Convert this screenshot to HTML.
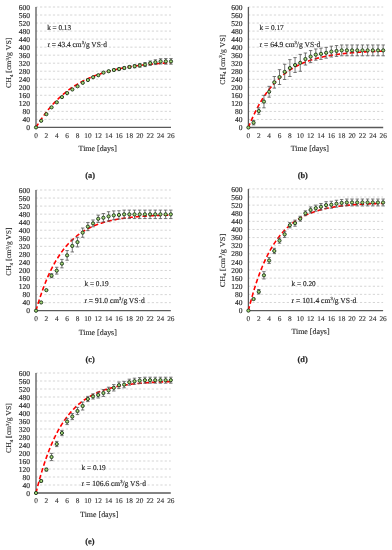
<!DOCTYPE html>
<html><head><meta charset="utf-8"><title>Figure</title>
<style>
html,body{margin:0;padding:0;background:#fff;}
body{width:392px;height:550px;overflow:hidden;}
svg{display:block;}
#w{width:392px;height:550px;}
text{font-family:"Liberation Serif", serif;fill:#262626;text-rendering:geometricPrecision;stroke:#262626;stroke-width:0.18px;}
.yt{font-size:7.5px;text-anchor:end;fill:#262626;stroke:#262626;stroke-width:0.15px;}
.xt{font-size:7.3px;text-anchor:middle;fill:#303030;stroke:#303030;stroke-width:0.12px;}
.an{font-size:7.4px;stroke-width:0.16px;}
.an2{font-size:7.7px;stroke-width:0.16px;}
.yl{font-size:7.4px;text-anchor:middle;stroke-width:0.12px;fill:#2a2a2a;stroke:#2a2a2a;}
.xl{font-size:7.8px;stroke-width:0.12px;fill:#2a2a2a;stroke:#2a2a2a;}
.pl{font-size:8.4px;font-weight:bold;text-anchor:middle;}
.sup,.sub{font-size:4.6px;}
.gr{stroke:#d0d0d0;stroke-width:0.9;stroke-dasharray:2.2 2.1;}
.ax{stroke:#595959;stroke-width:1.3;}
.md{fill:none;stroke:#ff0000;stroke-width:1.6;stroke-dasharray:4.5 2.6;}
.eb{fill:none;stroke:#555;stroke-width:0.8;}
.mk{fill:#a3d977;stroke:#263d22;stroke-width:1;}
</style></head>
<body><div id="w"><svg width="392" height="550" viewBox="0 0 392 550">
<rect width="392" height="550" fill="#fff"/>
<g><line x1="35.70" y1="119.37" x2="171.00" y2="119.37" class="gr"/>
<line x1="35.70" y1="111.35" x2="171.00" y2="111.35" class="gr"/>
<line x1="35.70" y1="103.32" x2="171.00" y2="103.32" class="gr"/>
<line x1="35.70" y1="95.29" x2="171.00" y2="95.29" class="gr"/>
<line x1="35.70" y1="87.27" x2="171.00" y2="87.27" class="gr"/>
<line x1="35.70" y1="79.24" x2="171.00" y2="79.24" class="gr"/>
<line x1="35.70" y1="71.21" x2="171.00" y2="71.21" class="gr"/>
<line x1="35.70" y1="63.19" x2="171.00" y2="63.19" class="gr"/>
<line x1="35.70" y1="55.16" x2="171.00" y2="55.16" class="gr"/>
<line x1="35.70" y1="47.13" x2="171.00" y2="47.13" class="gr"/>
<line x1="35.70" y1="39.11" x2="171.00" y2="39.11" class="gr"/>
<line x1="35.70" y1="31.08" x2="171.00" y2="31.08" class="gr"/>
<line x1="35.70" y1="23.05" x2="171.00" y2="23.05" class="gr"/>
<line x1="35.70" y1="15.03" x2="171.00" y2="15.03" class="gr"/>
<line x1="35.70" y1="7.00" x2="171.00" y2="7.00" class="gr"/>
<text x="30.00" y="130.00" class="yt">0</text>
<text x="30.00" y="121.97" class="yt">40</text>
<text x="30.00" y="113.95" class="yt">80</text>
<text x="30.00" y="105.92" class="yt">120</text>
<text x="30.00" y="97.89" class="yt">160</text>
<text x="30.00" y="89.87" class="yt">200</text>
<text x="30.00" y="81.84" class="yt">240</text>
<text x="30.00" y="73.81" class="yt">280</text>
<text x="30.00" y="65.79" class="yt">320</text>
<text x="30.00" y="57.76" class="yt">360</text>
<text x="30.00" y="49.73" class="yt">400</text>
<text x="30.00" y="41.71" class="yt">440</text>
<text x="30.00" y="33.68" class="yt">480</text>
<text x="30.00" y="25.65" class="yt">520</text>
<text x="30.00" y="17.63" class="yt">560</text>
<text x="30.00" y="9.60" class="yt">600</text>
<text x="36.00" y="137.80" class="xt">0</text>
<text x="46.38" y="137.80" class="xt">2</text>
<text x="56.77" y="137.80" class="xt">4</text>
<text x="67.15" y="137.80" class="xt">6</text>
<text x="77.54" y="137.80" class="xt">8</text>
<text x="87.92" y="137.80" class="xt">10</text>
<text x="98.31" y="137.80" class="xt">12</text>
<text x="108.69" y="137.80" class="xt">14</text>
<text x="119.08" y="137.80" class="xt">16</text>
<text x="129.46" y="137.80" class="xt">18</text>
<text x="139.85" y="137.80" class="xt">20</text>
<text x="150.23" y="137.80" class="xt">22</text>
<text x="160.62" y="137.80" class="xt">24</text>
<text x="171.00" y="137.80" class="xt">26</text>
<line x1="36.00" y1="7.00" x2="36.00" y2="127.40" class="ax"/>
<line x1="36.00" y1="127.40" x2="171.00" y2="127.40" class="ax"/>
<polyline points="36.00,127.40 36.67,126.28 37.35,125.17 38.02,124.09 38.70,123.02 39.38,121.97 40.05,120.94 40.73,119.93 41.40,118.93 42.08,117.95 42.75,116.98 43.42,116.04 44.10,115.10 44.77,114.19 45.45,113.29 46.12,112.40 46.80,111.53 47.48,110.67 48.15,109.83 48.83,109.00 49.50,108.19 50.17,107.39 50.85,106.60 51.53,105.83 52.20,105.07 52.88,104.32 53.55,103.58 54.22,102.86 54.90,102.15 55.58,101.45 56.25,100.76 56.92,100.08 57.60,99.42 58.28,98.77 58.95,98.12 59.62,97.49 60.30,96.87 60.97,96.26 61.65,95.66 62.33,95.07 63.00,94.49 63.67,93.92 64.35,93.36 65.03,92.80 65.70,92.26 66.38,91.73 67.05,91.20 67.72,90.69 68.40,90.18 69.08,89.68 69.75,89.19 70.43,88.71 71.10,88.23 71.78,87.77 72.45,87.31 73.12,86.86 73.80,86.42 74.47,85.98 75.15,85.55 75.83,85.13 76.50,84.72 77.17,84.31 77.85,83.91 78.53,83.52 79.20,83.13 79.88,82.75 80.55,82.37 81.23,82.01 81.90,81.64 82.58,81.29 83.25,80.94 83.93,80.59 84.60,80.26 85.28,79.92 85.95,79.60 86.62,79.28 87.30,78.96 87.97,78.65 88.65,78.34 89.33,78.04 90.00,77.75 90.67,77.46 91.35,77.17 92.03,76.89 92.70,76.61 93.38,76.34 94.05,76.08 94.72,75.81 95.40,75.56 96.08,75.30 96.75,75.05 97.43,74.81 98.10,74.57 98.78,74.33 99.45,74.10 100.12,73.87 100.80,73.64 101.47,73.42 102.15,73.20 102.83,72.99 103.50,72.78 104.18,72.57 104.85,72.37 105.53,72.17 106.20,71.97 106.88,71.78 107.55,71.59 108.23,71.40 108.90,71.21 109.58,71.03 110.25,70.86 110.92,70.68 111.60,70.51 112.28,70.34 112.95,70.17 113.62,70.01 114.30,69.85 114.98,69.69 115.65,69.54 116.33,69.38 117.00,69.23 117.68,69.08 118.35,68.94 119.03,68.80 119.70,68.66 120.38,68.52 121.05,68.38 121.73,68.25 122.40,68.12 123.08,67.99 123.75,67.86 124.43,67.74 125.10,67.61 125.78,67.49 126.45,67.38 127.13,67.26 127.80,67.14 128.47,67.03 129.15,66.92 129.82,66.81 130.50,66.70 131.18,66.60 131.85,66.50 132.53,66.39 133.20,66.29 133.88,66.19 134.55,66.10 135.22,66.00 135.90,65.91 136.57,65.82 137.25,65.73 137.93,65.64 138.60,65.55 139.28,65.46 139.95,65.38 140.62,65.30 141.30,65.21 141.98,65.13 142.65,65.06 143.33,64.98 144.00,64.90 144.68,64.83 145.35,64.75 146.03,64.68 146.70,64.61 147.38,64.54 148.05,64.47 148.73,64.40 149.40,64.33 150.07,64.27 150.75,64.20 151.43,64.14 152.10,64.08 152.77,64.02 153.45,63.96 154.12,63.90 154.80,63.84 155.48,63.78 156.15,63.73 156.82,63.67 157.50,63.62 158.18,63.56 158.85,63.51 159.53,63.46 160.20,63.41 160.88,63.36 161.55,63.31 162.22,63.26 162.90,63.21 163.57,63.16 164.25,63.12 164.92,63.07 165.60,63.03 166.28,62.98 166.95,62.94 167.62,62.90 168.30,62.86 168.97,62.82 169.65,62.78 170.33,62.74 171.00,62.70" class="md"/>
<path d="M98.31 74.83V75.63M96.61 74.83H100.01M96.61 75.63H100.01" class="eb"/>
<path d="M103.50 72.02V73.22M101.80 72.02H105.20M101.80 73.22H105.20" class="eb"/>
<path d="M108.69 70.41V72.02M106.99 70.41H110.39M106.99 72.02H110.39" class="eb"/>
<path d="M113.88 69.21V70.81M112.18 69.21H115.58M112.18 70.81H115.58" class="eb"/>
<path d="M119.08 68.00V70.01M117.38 68.00H120.78M117.38 70.01H120.78" class="eb"/>
<path d="M124.27 66.80V69.21M122.57 66.80H125.97M122.57 69.21H125.97" class="eb"/>
<path d="M129.46 65.59V68.40M127.76 65.59H131.16M127.76 68.40H131.16" class="eb"/>
<path d="M134.65 64.59V67.80M132.95 64.59H136.35M132.95 67.80H136.35" class="eb"/>
<path d="M139.85 63.59V67.20M138.15 63.59H141.55M138.15 67.20H141.55" class="eb"/>
<path d="M145.04 62.58V66.60M143.34 62.58H146.74M143.34 66.60H146.74" class="eb"/>
<path d="M150.23 60.98V65.39M148.53 60.98H151.93M148.53 65.39H151.93" class="eb"/>
<path d="M155.42 59.78V64.59M153.72 59.78H157.12M153.72 64.59H157.12" class="eb"/>
<path d="M160.62 58.77V63.99M158.92 58.77H162.32M158.92 63.99H162.32" class="eb"/>
<path d="M165.81 58.57V64.19M164.11 58.57H167.51M164.11 64.19H167.51" class="eb"/>
<path d="M171.00 58.57V64.19M169.30 58.57H172.70M169.30 64.19H172.70" class="eb"/>
<circle cx="36.00" cy="127.40" r="1.6" class="mk"/>
<circle cx="41.19" cy="120.78" r="1.6" class="mk"/>
<circle cx="46.38" cy="114.16" r="1.6" class="mk"/>
<circle cx="51.58" cy="107.33" r="1.6" class="mk"/>
<circle cx="56.77" cy="102.32" r="1.6" class="mk"/>
<circle cx="61.96" cy="97.10" r="1.6" class="mk"/>
<circle cx="67.15" cy="93.09" r="1.6" class="mk"/>
<circle cx="72.35" cy="89.47" r="1.6" class="mk"/>
<circle cx="77.54" cy="86.26" r="1.6" class="mk"/>
<circle cx="82.73" cy="82.85" r="1.6" class="mk"/>
<circle cx="87.92" cy="80.04" r="1.6" class="mk"/>
<circle cx="93.12" cy="77.23" r="1.6" class="mk"/>
<circle cx="98.31" cy="75.23" r="1.6" class="mk"/>
<circle cx="103.50" cy="72.62" r="1.6" class="mk"/>
<circle cx="108.69" cy="71.21" r="1.6" class="mk"/>
<circle cx="113.88" cy="70.01" r="1.6" class="mk"/>
<circle cx="119.08" cy="69.01" r="1.6" class="mk"/>
<circle cx="124.27" cy="68.00" r="1.6" class="mk"/>
<circle cx="129.46" cy="67.00" r="1.6" class="mk"/>
<circle cx="134.65" cy="66.20" r="1.6" class="mk"/>
<circle cx="139.85" cy="65.39" r="1.6" class="mk"/>
<circle cx="145.04" cy="64.59" r="1.6" class="mk"/>
<circle cx="150.23" cy="63.19" r="1.6" class="mk"/>
<circle cx="155.42" cy="62.18" r="1.6" class="mk"/>
<circle cx="160.62" cy="61.38" r="1.6" class="mk"/>
<circle cx="165.81" cy="61.38" r="1.6" class="mk"/>
<circle cx="171.00" cy="61.38" r="1.6" class="mk"/>
<text x="47.20" y="29.70" class="an" textLength="23.90" lengthAdjust="spacingAndGlyphs">k = 0.13</text>
<text x="47.40" y="46.70" class="an2" textLength="59.60" lengthAdjust="spacingAndGlyphs">r = 43.4 cm<tspan class="sup" dy="-2.6">3</tspan><tspan dy="2.6">/g VS·d</tspan></text>
<text transform="translate(11.20,62.80) rotate(-90)" class="yl" textLength="50.40" lengthAdjust="spacingAndGlyphs">CH<tspan class="sub" dy="1.6">4</tspan><tspan dy="-1.6"> [cm</tspan><tspan class="sup" dy="-2.6">3</tspan><tspan dy="2.6">/g VS]</tspan></text>
<text x="78.60" y="150.80" class="xl" textLength="38.2" lengthAdjust="spacingAndGlyphs">Time [days]</text>
<text x="90.20" y="177.90" class="pl">(a)</text></g>
<g><line x1="248.10" y1="119.47" x2="383.20" y2="119.47" class="gr"/>
<line x1="248.10" y1="111.43" x2="383.20" y2="111.43" class="gr"/>
<line x1="248.10" y1="103.40" x2="383.20" y2="103.40" class="gr"/>
<line x1="248.10" y1="95.37" x2="383.20" y2="95.37" class="gr"/>
<line x1="248.10" y1="87.33" x2="383.20" y2="87.33" class="gr"/>
<line x1="248.10" y1="79.30" x2="383.20" y2="79.30" class="gr"/>
<line x1="248.10" y1="71.27" x2="383.20" y2="71.27" class="gr"/>
<line x1="248.10" y1="63.23" x2="383.20" y2="63.23" class="gr"/>
<line x1="248.10" y1="55.20" x2="383.20" y2="55.20" class="gr"/>
<line x1="248.10" y1="47.17" x2="383.20" y2="47.17" class="gr"/>
<line x1="248.10" y1="39.13" x2="383.20" y2="39.13" class="gr"/>
<line x1="248.10" y1="31.10" x2="383.20" y2="31.10" class="gr"/>
<line x1="248.10" y1="23.07" x2="383.20" y2="23.07" class="gr"/>
<line x1="248.10" y1="15.03" x2="383.20" y2="15.03" class="gr"/>
<line x1="248.10" y1="7.00" x2="383.20" y2="7.00" class="gr"/>
<text x="242.40" y="130.10" class="yt">0</text>
<text x="242.40" y="122.07" class="yt">40</text>
<text x="242.40" y="114.03" class="yt">80</text>
<text x="242.40" y="106.00" class="yt">120</text>
<text x="242.40" y="97.97" class="yt">160</text>
<text x="242.40" y="89.93" class="yt">200</text>
<text x="242.40" y="81.90" class="yt">240</text>
<text x="242.40" y="73.87" class="yt">280</text>
<text x="242.40" y="65.83" class="yt">320</text>
<text x="242.40" y="57.80" class="yt">360</text>
<text x="242.40" y="49.77" class="yt">400</text>
<text x="242.40" y="41.73" class="yt">440</text>
<text x="242.40" y="33.70" class="yt">480</text>
<text x="242.40" y="25.67" class="yt">520</text>
<text x="242.40" y="17.63" class="yt">560</text>
<text x="242.40" y="9.60" class="yt">600</text>
<text x="248.40" y="137.90" class="xt">0</text>
<text x="258.77" y="137.90" class="xt">2</text>
<text x="269.14" y="137.90" class="xt">4</text>
<text x="279.51" y="137.90" class="xt">6</text>
<text x="289.88" y="137.90" class="xt">8</text>
<text x="300.25" y="137.90" class="xt">10</text>
<text x="310.62" y="137.90" class="xt">12</text>
<text x="320.98" y="137.90" class="xt">14</text>
<text x="331.35" y="137.90" class="xt">16</text>
<text x="341.72" y="137.90" class="xt">18</text>
<text x="352.09" y="137.90" class="xt">20</text>
<text x="362.46" y="137.90" class="xt">22</text>
<text x="372.83" y="137.90" class="xt">24</text>
<text x="383.20" y="137.90" class="xt">26</text>
<line x1="248.40" y1="7.00" x2="248.40" y2="127.50" class="ax"/>
<line x1="248.40" y1="127.50" x2="383.20" y2="127.50" class="ax"/>
<polyline points="248.40,127.50 249.07,125.81 249.75,124.16 250.42,122.54 251.10,120.96 251.77,119.41 252.44,117.90 253.12,116.42 253.79,114.97 254.47,113.55 255.14,112.17 255.81,110.81 256.49,109.49 257.16,108.19 257.84,106.92 258.51,105.68 259.18,104.47 259.86,103.28 260.53,102.12 261.21,100.99 261.88,99.88 262.55,98.79 263.23,97.73 263.90,96.69 264.58,95.67 265.25,94.68 265.92,93.71 266.60,92.75 267.27,91.82 267.95,90.91 268.62,90.02 269.29,89.15 269.97,88.30 270.64,87.47 271.32,86.65 271.99,85.85 272.66,85.07 273.34,84.31 274.01,83.57 274.69,82.84 275.36,82.12 276.03,81.42 276.71,80.74 277.38,80.07 278.06,79.42 278.73,78.78 279.40,78.16 280.08,77.54 280.75,76.95 281.43,76.36 282.10,75.79 282.77,75.23 283.45,74.68 284.12,74.15 284.80,73.62 285.47,73.11 286.14,72.61 286.82,72.12 287.49,71.64 288.17,71.17 288.84,70.71 289.51,70.26 290.19,69.82 290.86,69.39 291.54,68.97 292.21,68.56 292.88,68.16 293.56,67.77 294.23,67.38 294.91,67.01 295.58,66.64 296.25,66.28 296.93,65.93 297.60,65.58 298.28,65.25 298.95,64.92 299.62,64.60 300.30,64.28 300.97,63.97 301.65,63.67 302.32,63.38 302.99,63.09 303.67,62.81 304.34,62.53 305.02,62.26 305.69,62.00 306.36,61.74 307.04,61.48 307.71,61.24 308.39,61.00 309.06,60.76 309.73,60.53 310.41,60.30 311.08,60.08 311.76,59.86 312.43,59.65 313.10,59.45 313.78,59.24 314.45,59.04 315.13,58.85 315.80,58.66 316.47,58.48 317.15,58.29 317.82,58.12 318.50,57.94 319.17,57.77 319.84,57.61 320.52,57.45 321.19,57.29 321.87,57.13 322.54,56.98 323.21,56.83 323.89,56.69 324.56,56.54 325.24,56.40 325.91,56.27 326.58,56.13 327.26,56.00 327.93,55.88 328.61,55.75 329.28,55.63 329.95,55.51 330.63,55.40 331.30,55.28 331.98,55.17 332.65,55.06 333.32,54.95 334.00,54.85 334.67,54.75 335.35,54.65 336.02,54.55 336.69,54.45 337.37,54.36 338.04,54.27 338.72,54.18 339.39,54.09 340.06,54.01 340.74,53.92 341.41,53.84 342.09,53.76 342.76,53.68 343.43,53.61 344.11,53.53 344.78,53.46 345.46,53.39 346.13,53.32 346.80,53.25 347.48,53.18 348.15,53.12 348.83,53.05 349.50,52.99 350.17,52.93 350.85,52.87 351.52,52.81 352.20,52.75 352.87,52.69 353.54,52.64 354.22,52.59 354.89,52.53 355.57,52.48 356.24,52.43 356.91,52.38 357.59,52.33 358.26,52.29 358.94,52.24 359.61,52.20 360.28,52.15 360.96,52.11 361.63,52.07 362.31,52.03 362.98,51.98 363.65,51.95 364.33,51.91 365.00,51.87 365.68,51.83 366.35,51.80 367.02,51.76 367.70,51.73 368.37,51.69 369.05,51.66 369.72,51.63 370.39,51.60 371.07,51.56 371.74,51.53 372.42,51.50 373.09,51.48 373.76,51.45 374.44,51.42 375.11,51.39 375.79,51.37 376.46,51.34 377.13,51.31 377.81,51.29 378.48,51.27 379.16,51.24 379.83,51.22 380.50,51.20 381.18,51.17 381.85,51.15 382.53,51.13 383.20,51.11" class="md"/>
<path d="M253.58 120.47V124.89M251.88 120.47H255.28M251.88 124.89H255.28" class="eb"/>
<path d="M258.77 107.82V114.25M257.07 107.82H260.47M257.07 114.25H260.47" class="eb"/>
<path d="M263.95 95.37V107.82M262.25 95.37H265.65M262.25 107.82H265.65" class="eb"/>
<path d="M269.14 86.33V97.17M267.44 86.33H270.84M267.44 97.17H270.84" class="eb"/>
<path d="M274.32 76.49V88.14M272.62 76.49H276.02M272.62 88.14H276.02" class="eb"/>
<path d="M279.51 69.66V84.52M277.81 69.66H281.21M277.81 84.52H281.21" class="eb"/>
<path d="M284.69 64.24V79.50M282.99 64.24H286.39M282.99 79.50H286.39" class="eb"/>
<path d="M289.88 59.62V76.49M288.18 59.62H291.58M288.18 76.49H291.58" class="eb"/>
<path d="M295.06 57.61V72.47M293.36 57.61H296.76M293.36 72.47H296.76" class="eb"/>
<path d="M300.25 54.40V71.27M298.55 54.40H301.95M298.55 71.27H301.95" class="eb"/>
<path d="M305.43 52.99V65.04M303.73 52.99H307.13M303.73 65.04H307.13" class="eb"/>
<path d="M310.62 50.58V62.63M308.92 50.58H312.32M308.92 62.63H312.32" class="eb"/>
<path d="M315.80 48.97V60.22M314.10 48.97H317.50M314.10 60.22H317.50" class="eb"/>
<path d="M320.98 48.17V59.42M319.28 48.17H322.68M319.28 59.42H322.68" class="eb"/>
<path d="M326.17 47.37V58.21M324.47 47.37H327.87M324.47 58.21H327.87" class="eb"/>
<path d="M331.35 46.16V57.01M329.65 46.16H333.05M329.65 57.01H333.05" class="eb"/>
<path d="M336.54 45.56V56.41M334.84 45.56H338.24M334.84 56.41H338.24" class="eb"/>
<path d="M341.72 44.96V55.80M340.02 44.96H343.42M340.02 55.80H343.42" class="eb"/>
<path d="M346.91 44.96V55.80M345.21 44.96H348.61M345.21 55.80H348.61" class="eb"/>
<path d="M352.09 44.96V55.80M350.39 44.96H353.79M350.39 55.80H353.79" class="eb"/>
<path d="M357.28 44.96V55.80M355.58 44.96H358.98M355.58 55.80H358.98" class="eb"/>
<path d="M362.46 44.96V55.80M360.76 44.96H364.16M360.76 55.80H364.16" class="eb"/>
<path d="M367.65 44.96V55.80M365.95 44.96H369.35M365.95 55.80H369.35" class="eb"/>
<path d="M372.83 44.96V55.80M371.13 44.96H374.53M371.13 55.80H374.53" class="eb"/>
<path d="M378.02 44.96V55.80M376.32 44.96H379.72M376.32 55.80H379.72" class="eb"/>
<path d="M383.20 44.96V55.80M381.50 44.96H384.90M381.50 55.80H384.90" class="eb"/>
<circle cx="248.40" cy="127.50" r="1.6" class="mk"/>
<circle cx="253.58" cy="122.68" r="1.6" class="mk"/>
<circle cx="258.77" cy="111.03" r="1.6" class="mk"/>
<circle cx="263.95" cy="101.59" r="1.6" class="mk"/>
<circle cx="269.14" cy="91.75" r="1.6" class="mk"/>
<circle cx="274.32" cy="82.31" r="1.6" class="mk"/>
<circle cx="279.51" cy="77.09" r="1.6" class="mk"/>
<circle cx="284.69" cy="71.87" r="1.6" class="mk"/>
<circle cx="289.88" cy="68.05" r="1.6" class="mk"/>
<circle cx="295.06" cy="65.04" r="1.6" class="mk"/>
<circle cx="300.25" cy="62.83" r="1.6" class="mk"/>
<circle cx="305.43" cy="59.02" r="1.6" class="mk"/>
<circle cx="310.62" cy="56.61" r="1.6" class="mk"/>
<circle cx="315.80" cy="54.60" r="1.6" class="mk"/>
<circle cx="320.98" cy="53.79" r="1.6" class="mk"/>
<circle cx="326.17" cy="52.79" r="1.6" class="mk"/>
<circle cx="331.35" cy="51.58" r="1.6" class="mk"/>
<circle cx="336.54" cy="50.98" r="1.6" class="mk"/>
<circle cx="341.72" cy="50.38" r="1.6" class="mk"/>
<circle cx="346.91" cy="50.38" r="1.6" class="mk"/>
<circle cx="352.09" cy="50.38" r="1.6" class="mk"/>
<circle cx="357.28" cy="50.38" r="1.6" class="mk"/>
<circle cx="362.46" cy="50.38" r="1.6" class="mk"/>
<circle cx="367.65" cy="50.38" r="1.6" class="mk"/>
<circle cx="372.83" cy="50.38" r="1.6" class="mk"/>
<circle cx="378.02" cy="50.38" r="1.6" class="mk"/>
<circle cx="383.20" cy="50.38" r="1.6" class="mk"/>
<text x="259.60" y="29.80" class="an" textLength="24.10" lengthAdjust="spacingAndGlyphs">k = 0.17</text>
<text x="259.60" y="46.60" class="an2" textLength="60.80" lengthAdjust="spacingAndGlyphs">r = 64.9 cm<tspan class="sup" dy="-2.6">3</tspan><tspan dy="2.6">/g VS·d</tspan></text>
<text transform="translate(224.50,59.85) rotate(-90)" class="yl" textLength="49.90" lengthAdjust="spacingAndGlyphs">CH<tspan class="sub" dy="1.6">4</tspan><tspan dy="-1.6"> [cm</tspan><tspan class="sup" dy="-2.6">3</tspan><tspan dy="2.6">/g VS]</tspan></text>
<text x="290.80" y="151.10" class="xl" textLength="38.2" lengthAdjust="spacingAndGlyphs">Time [days]</text>
<text x="302.80" y="177.70" class="pl">(b)</text></g>
<g><line x1="35.70" y1="302.65" x2="170.80" y2="302.65" class="gr"/>
<line x1="35.70" y1="294.61" x2="170.80" y2="294.61" class="gr"/>
<line x1="35.70" y1="286.56" x2="170.80" y2="286.56" class="gr"/>
<line x1="35.70" y1="278.51" x2="170.80" y2="278.51" class="gr"/>
<line x1="35.70" y1="270.47" x2="170.80" y2="270.47" class="gr"/>
<line x1="35.70" y1="262.42" x2="170.80" y2="262.42" class="gr"/>
<line x1="35.70" y1="254.37" x2="170.80" y2="254.37" class="gr"/>
<line x1="35.70" y1="246.33" x2="170.80" y2="246.33" class="gr"/>
<line x1="35.70" y1="238.28" x2="170.80" y2="238.28" class="gr"/>
<line x1="35.70" y1="230.23" x2="170.80" y2="230.23" class="gr"/>
<line x1="35.70" y1="222.19" x2="170.80" y2="222.19" class="gr"/>
<line x1="35.70" y1="214.14" x2="170.80" y2="214.14" class="gr"/>
<line x1="35.70" y1="206.09" x2="170.80" y2="206.09" class="gr"/>
<line x1="35.70" y1="198.05" x2="170.80" y2="198.05" class="gr"/>
<line x1="35.70" y1="190.00" x2="170.80" y2="190.00" class="gr"/>
<text x="30.00" y="313.30" class="yt">0</text>
<text x="30.00" y="305.25" class="yt">40</text>
<text x="30.00" y="297.21" class="yt">80</text>
<text x="30.00" y="289.16" class="yt">120</text>
<text x="30.00" y="281.11" class="yt">160</text>
<text x="30.00" y="273.07" class="yt">200</text>
<text x="30.00" y="265.02" class="yt">240</text>
<text x="30.00" y="256.97" class="yt">280</text>
<text x="30.00" y="248.93" class="yt">320</text>
<text x="30.00" y="240.88" class="yt">360</text>
<text x="30.00" y="232.83" class="yt">400</text>
<text x="30.00" y="224.79" class="yt">440</text>
<text x="30.00" y="216.74" class="yt">480</text>
<text x="30.00" y="208.69" class="yt">520</text>
<text x="30.00" y="200.65" class="yt">560</text>
<text x="30.00" y="192.60" class="yt">600</text>
<text x="36.00" y="321.10" class="xt">0</text>
<text x="46.37" y="321.10" class="xt">2</text>
<text x="56.74" y="321.10" class="xt">4</text>
<text x="67.11" y="321.10" class="xt">6</text>
<text x="77.48" y="321.10" class="xt">8</text>
<text x="87.85" y="321.10" class="xt">10</text>
<text x="98.22" y="321.10" class="xt">12</text>
<text x="108.58" y="321.10" class="xt">14</text>
<text x="118.95" y="321.10" class="xt">16</text>
<text x="129.32" y="321.10" class="xt">18</text>
<text x="139.69" y="321.10" class="xt">20</text>
<text x="150.06" y="321.10" class="xt">22</text>
<text x="160.43" y="321.10" class="xt">24</text>
<text x="170.80" y="321.10" class="xt">26</text>
<line x1="36.00" y1="190.00" x2="36.00" y2="310.70" class="ax"/>
<line x1="36.00" y1="310.70" x2="170.80" y2="310.70" class="ax"/>
<polyline points="36.00,310.70 36.67,308.35 37.35,306.06 38.02,303.82 38.70,301.64 39.37,299.51 40.04,297.43 40.72,295.40 41.39,293.43 42.07,291.50 42.74,289.62 43.41,287.78 44.09,285.99 44.76,284.24 45.44,282.54 46.11,280.87 46.78,279.25 47.46,277.67 48.13,276.12 48.81,274.62 49.48,273.15 50.15,271.71 50.83,270.31 51.50,268.95 52.18,267.62 52.85,266.32 53.52,265.05 54.20,263.81 54.87,262.61 55.55,261.43 56.22,260.28 56.89,259.16 57.57,258.07 58.24,257.00 58.92,255.96 59.59,254.95 60.26,253.95 60.94,252.99 61.61,252.05 62.29,251.13 62.96,250.23 63.63,249.36 64.31,248.50 64.98,247.67 65.66,246.86 66.33,246.06 67.00,245.29 67.68,244.53 68.35,243.80 69.03,243.08 69.70,242.38 70.37,241.70 71.05,241.03 71.72,240.38 72.40,239.74 73.07,239.12 73.74,238.52 74.42,237.93 75.09,237.36 75.77,236.80 76.44,236.25 77.11,235.71 77.79,235.19 78.46,234.68 79.14,234.19 79.81,233.71 80.48,233.23 81.16,232.77 81.83,232.32 82.51,231.89 83.18,231.46 83.85,231.04 84.53,230.63 85.20,230.24 85.88,229.85 86.55,229.47 87.22,229.10 87.90,228.74 88.57,228.39 89.25,228.05 89.92,227.72 90.59,227.39 91.27,227.07 91.94,226.76 92.62,226.46 93.29,226.16 93.96,225.88 94.64,225.60 95.31,225.32 95.99,225.05 96.66,224.79 97.33,224.54 98.01,224.29 98.68,224.05 99.36,223.81 100.03,223.58 100.70,223.36 101.38,223.14 102.05,222.92 102.73,222.71 103.40,222.51 104.07,222.31 104.75,222.12 105.42,221.93 106.10,221.74 106.77,221.56 107.44,221.39 108.12,221.22 108.79,221.05 109.47,220.89 110.14,220.73 110.81,220.57 111.49,220.42 112.16,220.27 112.84,220.13 113.51,219.99 114.18,219.85 114.86,219.72 115.53,219.59 116.21,219.46 116.88,219.33 117.55,219.21 118.23,219.09 118.90,218.98 119.58,218.87 120.25,218.76 120.92,218.65 121.60,218.54 122.27,218.44 122.95,218.34 123.62,218.25 124.29,218.15 124.97,218.06 125.64,217.97 126.32,217.88 126.99,217.79 127.66,217.71 128.34,217.63 129.01,217.55 129.69,217.47 130.36,217.40 131.03,217.32 131.71,217.25 132.38,217.18 133.06,217.11 133.73,217.04 134.40,216.98 135.08,216.91 135.75,216.85 136.43,216.79 137.10,216.73 137.77,216.67 138.45,216.62 139.12,216.56 139.80,216.51 140.47,216.46 141.14,216.40 141.82,216.35 142.49,216.31 143.17,216.26 143.84,216.21 144.51,216.17 145.19,216.12 145.86,216.08 146.54,216.04 147.21,216.00 147.88,215.96 148.56,215.92 149.23,215.88 149.91,215.84 150.58,215.81 151.25,215.77 151.93,215.74 152.60,215.70 153.28,215.67 153.95,215.64 154.62,215.61 155.30,215.58 155.97,215.55 156.65,215.52 157.32,215.49 157.99,215.46 158.67,215.44 159.34,215.41 160.02,215.38 160.69,215.36 161.36,215.34 162.04,215.31 162.71,215.29 163.39,215.27 164.06,215.24 164.73,215.22 165.41,215.20 166.08,215.18 166.76,215.16 167.43,215.14 168.10,215.12 168.78,215.10 169.45,215.09 170.13,215.07 170.80,215.05" class="md"/>
<path d="M51.55 273.69V277.71M49.85 273.69H53.25M49.85 277.71H53.25" class="eb"/>
<path d="M56.74 267.25V274.09M55.04 267.25H58.44M55.04 274.09H58.44" class="eb"/>
<path d="M61.92 259.40V267.85M60.22 259.40H63.62M60.22 267.85H63.62" class="eb"/>
<path d="M67.11 250.55V260.21M65.41 250.55H68.81M65.41 260.21H68.81" class="eb"/>
<path d="M72.29 239.89V251.96M70.59 239.89H73.99M70.59 251.96H73.99" class="eb"/>
<path d="M77.48 237.27V246.93M75.78 237.27H79.18M75.78 246.93H79.18" class="eb"/>
<path d="M82.66 228.02V237.27M80.96 228.02H84.36M80.96 237.27H84.36" class="eb"/>
<path d="M87.85 222.59V230.64M86.15 222.59H89.55M86.15 230.64H89.55" class="eb"/>
<path d="M93.03 219.97V226.81M91.33 219.97H94.73M91.33 226.81H94.73" class="eb"/>
<path d="M98.22 215.15V222.39M96.52 215.15H99.92M96.52 222.39H99.92" class="eb"/>
<path d="M103.40 213.54V221.99M101.70 213.54H105.10M101.70 221.99H105.10" class="eb"/>
<path d="M108.58 211.73V220.98M106.88 211.73H110.28M106.88 220.98H110.28" class="eb"/>
<path d="M113.77 210.92V219.77M112.07 210.92H115.47M112.07 219.77H115.47" class="eb"/>
<path d="M118.95 210.72V219.17M117.25 210.72H120.65M117.25 219.17H120.65" class="eb"/>
<path d="M124.14 210.12V218.57M122.44 210.12H125.84M122.44 218.57H125.84" class="eb"/>
<path d="M129.32 210.12V218.57M127.62 210.12H131.02M127.62 218.57H131.02" class="eb"/>
<path d="M134.51 210.12V218.57M132.81 210.12H136.21M132.81 218.57H136.21" class="eb"/>
<path d="M139.69 210.12V218.57M137.99 210.12H141.39M137.99 218.57H141.39" class="eb"/>
<path d="M144.88 210.12V218.57M143.18 210.12H146.58M143.18 218.57H146.58" class="eb"/>
<path d="M150.06 210.12V218.57M148.36 210.12H151.76M148.36 218.57H151.76" class="eb"/>
<path d="M155.25 210.12V218.57M153.55 210.12H156.95M153.55 218.57H156.95" class="eb"/>
<path d="M160.43 210.12V218.57M158.73 210.12H162.13M158.73 218.57H162.13" class="eb"/>
<path d="M165.62 210.12V218.57M163.92 210.12H167.32M163.92 218.57H167.32" class="eb"/>
<path d="M170.80 210.12V218.57M169.10 210.12H172.50M169.10 218.57H172.50" class="eb"/>
<circle cx="36.00" cy="310.70" r="1.6" class="mk"/>
<circle cx="41.18" cy="302.45" r="1.6" class="mk"/>
<circle cx="46.37" cy="290.18" r="1.6" class="mk"/>
<circle cx="51.55" cy="275.70" r="1.6" class="mk"/>
<circle cx="56.74" cy="270.67" r="1.6" class="mk"/>
<circle cx="61.92" cy="263.63" r="1.6" class="mk"/>
<circle cx="67.11" cy="255.38" r="1.6" class="mk"/>
<circle cx="72.29" cy="245.92" r="1.6" class="mk"/>
<circle cx="77.48" cy="242.10" r="1.6" class="mk"/>
<circle cx="82.66" cy="232.65" r="1.6" class="mk"/>
<circle cx="87.85" cy="226.61" r="1.6" class="mk"/>
<circle cx="93.03" cy="223.39" r="1.6" class="mk"/>
<circle cx="98.22" cy="218.77" r="1.6" class="mk"/>
<circle cx="103.40" cy="217.76" r="1.6" class="mk"/>
<circle cx="108.58" cy="216.35" r="1.6" class="mk"/>
<circle cx="113.77" cy="215.35" r="1.6" class="mk"/>
<circle cx="118.95" cy="214.94" r="1.6" class="mk"/>
<circle cx="124.14" cy="214.34" r="1.6" class="mk"/>
<circle cx="129.32" cy="214.34" r="1.6" class="mk"/>
<circle cx="134.51" cy="214.34" r="1.6" class="mk"/>
<circle cx="139.69" cy="214.34" r="1.6" class="mk"/>
<circle cx="144.88" cy="214.34" r="1.6" class="mk"/>
<circle cx="150.06" cy="214.34" r="1.6" class="mk"/>
<circle cx="155.25" cy="214.34" r="1.6" class="mk"/>
<circle cx="160.43" cy="214.34" r="1.6" class="mk"/>
<circle cx="165.62" cy="214.34" r="1.6" class="mk"/>
<circle cx="170.80" cy="214.34" r="1.6" class="mk"/>
<text x="84.50" y="285.90" class="an" textLength="24.10" lengthAdjust="spacingAndGlyphs">k = 0.19</text>
<text x="84.50" y="302.60" class="an2" textLength="60.20" lengthAdjust="spacingAndGlyphs">r = 91.0 cm<tspan class="sup" dy="-2.6">3</tspan><tspan dy="2.6">/g VS·d</tspan></text>
<text transform="translate(11.20,251.65) rotate(-90)" class="yl" textLength="48.10" lengthAdjust="spacingAndGlyphs">CH<tspan class="sub" dy="1.6">4</tspan><tspan dy="-1.6"> [cm</tspan><tspan class="sup" dy="-2.6">3</tspan><tspan dy="2.6">/g VS]</tspan></text>
<text x="78.65" y="334.50" class="xl" textLength="38.2" lengthAdjust="spacingAndGlyphs">Time [days]</text>
<text x="90.20" y="361.80" class="pl">(c)</text></g>
<g><line x1="248.10" y1="302.49" x2="383.10" y2="302.49" class="gr"/>
<line x1="248.10" y1="294.37" x2="383.10" y2="294.37" class="gr"/>
<line x1="248.10" y1="286.26" x2="383.10" y2="286.26" class="gr"/>
<line x1="248.10" y1="278.15" x2="383.10" y2="278.15" class="gr"/>
<line x1="248.10" y1="270.03" x2="383.10" y2="270.03" class="gr"/>
<line x1="248.10" y1="261.92" x2="383.10" y2="261.92" class="gr"/>
<line x1="248.10" y1="253.81" x2="383.10" y2="253.81" class="gr"/>
<line x1="248.10" y1="245.69" x2="383.10" y2="245.69" class="gr"/>
<line x1="248.10" y1="237.58" x2="383.10" y2="237.58" class="gr"/>
<line x1="248.10" y1="229.47" x2="383.10" y2="229.47" class="gr"/>
<line x1="248.10" y1="221.35" x2="383.10" y2="221.35" class="gr"/>
<line x1="248.10" y1="213.24" x2="383.10" y2="213.24" class="gr"/>
<line x1="248.10" y1="205.13" x2="383.10" y2="205.13" class="gr"/>
<line x1="248.10" y1="197.01" x2="383.10" y2="197.01" class="gr"/>
<line x1="248.10" y1="188.90" x2="383.10" y2="188.90" class="gr"/>
<text x="242.40" y="313.20" class="yt">0</text>
<text x="242.40" y="305.09" class="yt">40</text>
<text x="242.40" y="296.97" class="yt">80</text>
<text x="242.40" y="288.86" class="yt">120</text>
<text x="242.40" y="280.75" class="yt">160</text>
<text x="242.40" y="272.63" class="yt">200</text>
<text x="242.40" y="264.52" class="yt">240</text>
<text x="242.40" y="256.41" class="yt">280</text>
<text x="242.40" y="248.29" class="yt">320</text>
<text x="242.40" y="240.18" class="yt">360</text>
<text x="242.40" y="232.07" class="yt">400</text>
<text x="242.40" y="223.95" class="yt">440</text>
<text x="242.40" y="215.84" class="yt">480</text>
<text x="242.40" y="207.73" class="yt">520</text>
<text x="242.40" y="199.61" class="yt">560</text>
<text x="242.40" y="191.50" class="yt">600</text>
<text x="248.40" y="321.00" class="xt">0</text>
<text x="258.76" y="321.00" class="xt">2</text>
<text x="269.12" y="321.00" class="xt">4</text>
<text x="279.48" y="321.00" class="xt">6</text>
<text x="289.85" y="321.00" class="xt">8</text>
<text x="300.21" y="321.00" class="xt">10</text>
<text x="310.57" y="321.00" class="xt">12</text>
<text x="320.93" y="321.00" class="xt">14</text>
<text x="331.29" y="321.00" class="xt">16</text>
<text x="341.65" y="321.00" class="xt">18</text>
<text x="352.02" y="321.00" class="xt">20</text>
<text x="362.38" y="321.00" class="xt">22</text>
<text x="372.74" y="321.00" class="xt">24</text>
<text x="383.10" y="321.00" class="xt">26</text>
<line x1="248.40" y1="188.90" x2="248.40" y2="310.60" class="ax"/>
<line x1="248.40" y1="310.60" x2="383.10" y2="310.60" class="ax"/>
<polyline points="248.40,310.60 249.07,307.90 249.75,305.27 250.42,302.70 251.09,300.19 251.77,297.75 252.44,295.37 253.11,293.05 253.79,290.79 254.46,288.59 255.14,286.44 255.81,284.34 256.48,282.30 257.16,280.30 257.83,278.36 258.50,276.47 259.18,274.62 259.85,272.82 260.52,271.07 261.20,269.35 261.87,267.69 262.54,266.06 263.22,264.47 263.89,262.93 264.56,261.42 265.24,259.95 265.91,258.51 266.58,257.12 267.26,255.76 267.93,254.43 268.61,253.13 269.28,251.87 269.95,250.64 270.63,249.44 271.30,248.27 271.97,247.13 272.65,246.02 273.32,244.93 273.99,243.87 274.67,242.84 275.34,241.84 276.01,240.86 276.69,239.90 277.36,238.97 278.03,238.06 278.71,237.18 279.38,236.31 280.05,235.47 280.73,234.65 281.40,233.85 282.07,233.07 282.75,232.31 283.42,231.57 284.10,230.85 284.77,230.14 285.44,229.46 286.12,228.79 286.79,228.13 287.46,227.50 288.14,226.88 288.81,226.27 289.48,225.68 290.16,225.10 290.83,224.54 291.50,224.00 292.18,223.46 292.85,222.94 293.52,222.44 294.20,221.94 294.87,221.46 295.55,220.99 296.22,220.53 296.89,220.09 297.57,219.65 298.24,219.23 298.91,218.81 299.59,218.41 300.26,218.02 300.93,217.63 301.61,217.26 302.28,216.89 302.95,216.54 303.63,216.19 304.30,215.85 304.97,215.52 305.65,215.20 306.32,214.89 306.99,214.58 307.67,214.29 308.34,214.00 309.01,213.71 309.69,213.44 310.36,213.17 311.04,212.91 311.71,212.65 312.38,212.40 313.06,212.16 313.73,211.92 314.40,211.69 315.08,211.47 315.75,211.25 316.42,211.03 317.10,210.82 317.77,210.62 318.44,210.42 319.12,210.23 319.79,210.04 320.46,209.85 321.14,209.68 321.81,209.50 322.49,209.33 323.16,209.16 323.83,209.00 324.51,208.84 325.18,208.69 325.85,208.54 326.53,208.39 327.20,208.25 327.87,208.11 328.55,207.98 329.22,207.84 329.89,207.72 330.57,207.59 331.24,207.47 331.91,207.35 332.59,207.23 333.26,207.12 333.93,207.01 334.61,206.90 335.28,206.79 335.95,206.69 336.63,206.59 337.30,206.49 337.98,206.40 338.65,206.31 339.32,206.21 340.00,206.13 340.67,206.04 341.34,205.96 342.02,205.88 342.69,205.80 343.36,205.72 344.04,205.64 344.71,205.57 345.38,205.50 346.06,205.43 346.73,205.36 347.40,205.29 348.08,205.23 348.75,205.16 349.43,205.10 350.10,205.04 350.77,204.98 351.45,204.92 352.12,204.87 352.79,204.81 353.47,204.76 354.14,204.71 354.81,204.66 355.49,204.61 356.16,204.56 356.83,204.51 357.51,204.47 358.18,204.42 358.85,204.38 359.53,204.34 360.20,204.30 360.87,204.26 361.55,204.22 362.22,204.18 362.90,204.14 363.57,204.11 364.24,204.07 364.92,204.04 365.59,204.00 366.26,203.97 366.94,203.94 367.61,203.91 368.28,203.88 368.96,203.85 369.63,203.82 370.30,203.79 370.98,203.76 371.65,203.74 372.32,203.71 373.00,203.68 373.67,203.66 374.34,203.64 375.02,203.61 375.69,203.59 376.37,203.57 377.04,203.54 377.71,203.52 378.39,203.50 379.06,203.48 379.73,203.46 380.41,203.44 381.08,203.42 381.75,203.41 382.43,203.39 383.10,203.37" class="md"/>
<path d="M253.58 298.23V299.85M251.88 298.23H255.28M251.88 299.85H255.28" class="eb"/>
<path d="M258.76 289.51V293.97M257.06 289.51H260.46M257.06 293.97H260.46" class="eb"/>
<path d="M263.94 271.66V278.96M262.24 271.66H265.64M262.24 278.96H265.64" class="eb"/>
<path d="M269.12 257.46V263.54M267.42 257.46H270.82M267.42 263.54H270.82" class="eb"/>
<path d="M274.30 248.33V253.60M272.60 248.33H276.00M272.60 253.60H276.00" class="eb"/>
<path d="M279.48 237.99V243.26M277.78 237.99H281.18M277.78 243.26H281.18" class="eb"/>
<path d="M284.67 231.29V237.38M282.97 231.29H286.37M282.97 237.38H286.37" class="eb"/>
<path d="M289.85 222.57V227.84M288.15 222.57H291.55M288.15 227.84H291.55" class="eb"/>
<path d="M295.03 220.14V226.22M293.33 220.14H296.73M293.33 226.22H296.73" class="eb"/>
<path d="M300.21 216.28V221.15M298.51 216.28H301.91M298.51 221.15H301.91" class="eb"/>
<path d="M305.39 210.81V215.67M303.69 210.81H307.09M303.69 215.67H307.09" class="eb"/>
<path d="M310.57 206.95V213.04M308.87 206.95H312.27M308.87 213.04H312.27" class="eb"/>
<path d="M315.75 205.13V211.21M314.05 205.13H317.45M314.05 211.21H317.45" class="eb"/>
<path d="M320.93 203.50V209.99M319.23 203.50H322.63M319.23 209.99H322.63" class="eb"/>
<path d="M326.11 201.68V208.57M324.41 201.68H327.81M324.41 208.57H327.81" class="eb"/>
<path d="M331.29 201.27V208.17M329.59 201.27H332.99M329.59 208.17H332.99" class="eb"/>
<path d="M336.47 200.26V207.16M334.77 200.26H338.17M334.77 207.16H338.17" class="eb"/>
<path d="M341.65 199.45V206.34M339.95 199.45H343.35M339.95 206.34H343.35" class="eb"/>
<path d="M346.83 199.04V205.94M345.13 199.04H348.53M345.13 205.94H348.53" class="eb"/>
<path d="M352.02 199.04V205.94M350.32 199.04H353.72M350.32 205.94H353.72" class="eb"/>
<path d="M357.20 199.04V205.94M355.50 199.04H358.90M355.50 205.94H358.90" class="eb"/>
<path d="M362.38 199.04V205.94M360.68 199.04H364.08M360.68 205.94H364.08" class="eb"/>
<path d="M367.56 199.04V205.94M365.86 199.04H369.26M365.86 205.94H369.26" class="eb"/>
<path d="M372.74 199.04V205.94M371.04 199.04H374.44M371.04 205.94H374.44" class="eb"/>
<path d="M377.92 199.04V205.94M376.22 199.04H379.62M376.22 205.94H379.62" class="eb"/>
<path d="M383.10 199.04V205.94M381.40 199.04H384.80M381.40 205.94H384.80" class="eb"/>
<circle cx="248.40" cy="310.60" r="1.6" class="mk"/>
<circle cx="253.58" cy="299.04" r="1.6" class="mk"/>
<circle cx="258.76" cy="291.74" r="1.6" class="mk"/>
<circle cx="263.94" cy="275.31" r="1.6" class="mk"/>
<circle cx="269.12" cy="260.50" r="1.6" class="mk"/>
<circle cx="274.30" cy="250.97" r="1.6" class="mk"/>
<circle cx="279.48" cy="240.62" r="1.6" class="mk"/>
<circle cx="284.67" cy="234.33" r="1.6" class="mk"/>
<circle cx="289.85" cy="225.21" r="1.6" class="mk"/>
<circle cx="295.03" cy="223.18" r="1.6" class="mk"/>
<circle cx="300.21" cy="218.72" r="1.6" class="mk"/>
<circle cx="305.39" cy="213.24" r="1.6" class="mk"/>
<circle cx="310.57" cy="209.99" r="1.6" class="mk"/>
<circle cx="315.75" cy="208.17" r="1.6" class="mk"/>
<circle cx="320.93" cy="206.75" r="1.6" class="mk"/>
<circle cx="326.11" cy="205.13" r="1.6" class="mk"/>
<circle cx="331.29" cy="204.72" r="1.6" class="mk"/>
<circle cx="336.47" cy="203.71" r="1.6" class="mk"/>
<circle cx="341.65" cy="202.90" r="1.6" class="mk"/>
<circle cx="346.83" cy="202.49" r="1.6" class="mk"/>
<circle cx="352.02" cy="202.49" r="1.6" class="mk"/>
<circle cx="357.20" cy="202.49" r="1.6" class="mk"/>
<circle cx="362.38" cy="202.49" r="1.6" class="mk"/>
<circle cx="367.56" cy="202.49" r="1.6" class="mk"/>
<circle cx="372.74" cy="202.49" r="1.6" class="mk"/>
<circle cx="377.92" cy="202.49" r="1.6" class="mk"/>
<circle cx="383.10" cy="202.49" r="1.6" class="mk"/>
<text x="291.60" y="286.10" class="an" textLength="24.10" lengthAdjust="spacingAndGlyphs">k = 0.20</text>
<text x="291.60" y="302.90" class="an2" textLength="64.70" lengthAdjust="spacingAndGlyphs">r = 101.4 cm<tspan class="sup" dy="-2.6">3</tspan><tspan dy="2.6">/g VS·d</tspan></text>
<text transform="translate(224.50,260.50) rotate(-90)" class="yl" textLength="53.40" lengthAdjust="spacingAndGlyphs">CH<tspan class="sub" dy="1.6">4</tspan><tspan dy="-1.6"> [cm</tspan><tspan class="sup" dy="-2.6">3</tspan><tspan dy="2.6">/g VS]</tspan></text>
<text x="291.40" y="334.20" class="xl" textLength="38.2" lengthAdjust="spacingAndGlyphs">Time [days]</text>
<text x="302.70" y="362.00" class="pl">(d)</text></g>
<g><line x1="35.70" y1="485.00" x2="170.80" y2="485.00" class="gr"/>
<line x1="35.70" y1="477.00" x2="170.80" y2="477.00" class="gr"/>
<line x1="35.70" y1="469.00" x2="170.80" y2="469.00" class="gr"/>
<line x1="35.70" y1="461.00" x2="170.80" y2="461.00" class="gr"/>
<line x1="35.70" y1="453.00" x2="170.80" y2="453.00" class="gr"/>
<line x1="35.70" y1="445.00" x2="170.80" y2="445.00" class="gr"/>
<line x1="35.70" y1="437.00" x2="170.80" y2="437.00" class="gr"/>
<line x1="35.70" y1="429.00" x2="170.80" y2="429.00" class="gr"/>
<line x1="35.70" y1="421.00" x2="170.80" y2="421.00" class="gr"/>
<line x1="35.70" y1="413.00" x2="170.80" y2="413.00" class="gr"/>
<line x1="35.70" y1="405.00" x2="170.80" y2="405.00" class="gr"/>
<line x1="35.70" y1="397.00" x2="170.80" y2="397.00" class="gr"/>
<line x1="35.70" y1="389.00" x2="170.80" y2="389.00" class="gr"/>
<line x1="35.70" y1="381.00" x2="170.80" y2="381.00" class="gr"/>
<line x1="35.70" y1="373.00" x2="170.80" y2="373.00" class="gr"/>
<text x="30.00" y="495.60" class="yt">0</text>
<text x="30.00" y="487.60" class="yt">40</text>
<text x="30.00" y="479.60" class="yt">80</text>
<text x="30.00" y="471.60" class="yt">120</text>
<text x="30.00" y="463.60" class="yt">160</text>
<text x="30.00" y="455.60" class="yt">200</text>
<text x="30.00" y="447.60" class="yt">240</text>
<text x="30.00" y="439.60" class="yt">280</text>
<text x="30.00" y="431.60" class="yt">320</text>
<text x="30.00" y="423.60" class="yt">360</text>
<text x="30.00" y="415.60" class="yt">400</text>
<text x="30.00" y="407.60" class="yt">440</text>
<text x="30.00" y="399.60" class="yt">480</text>
<text x="30.00" y="391.60" class="yt">520</text>
<text x="30.00" y="383.60" class="yt">560</text>
<text x="30.00" y="375.60" class="yt">600</text>
<text x="36.00" y="503.40" class="xt">0</text>
<text x="46.37" y="503.40" class="xt">2</text>
<text x="56.74" y="503.40" class="xt">4</text>
<text x="67.11" y="503.40" class="xt">6</text>
<text x="77.48" y="503.40" class="xt">8</text>
<text x="87.85" y="503.40" class="xt">10</text>
<text x="98.22" y="503.40" class="xt">12</text>
<text x="108.58" y="503.40" class="xt">14</text>
<text x="118.95" y="503.40" class="xt">16</text>
<text x="129.32" y="503.40" class="xt">18</text>
<text x="139.69" y="503.40" class="xt">20</text>
<text x="150.06" y="503.40" class="xt">22</text>
<text x="160.43" y="503.40" class="xt">24</text>
<text x="170.80" y="503.40" class="xt">26</text>
<line x1="36.00" y1="373.00" x2="36.00" y2="493.00" class="ax"/>
<line x1="36.00" y1="493.00" x2="170.80" y2="493.00" class="ax"/>
<polyline points="36.00,493.00 36.67,490.26 37.35,487.59 38.02,484.99 38.70,482.44 39.37,479.96 40.04,477.55 40.72,475.19 41.39,472.88 42.07,470.64 42.74,468.44 43.41,466.31 44.09,464.22 44.76,462.18 45.44,460.20 46.11,458.26 46.78,456.37 47.46,454.53 48.13,452.73 48.81,450.97 49.48,449.26 50.15,447.59 50.83,445.96 51.50,444.37 52.18,442.82 52.85,441.31 53.52,439.83 54.20,438.39 54.87,436.99 55.55,435.62 56.22,434.28 56.89,432.97 57.57,431.70 58.24,430.46 58.92,429.25 59.59,428.07 60.26,426.91 60.94,425.79 61.61,424.69 62.29,423.62 62.96,422.57 63.63,421.56 64.31,420.56 64.98,419.59 65.66,418.64 66.33,417.72 67.00,416.82 67.68,415.94 68.35,415.08 69.03,414.25 69.70,413.43 70.37,412.64 71.05,411.86 71.72,411.10 72.40,410.36 73.07,409.64 73.74,408.94 74.42,408.25 75.09,407.58 75.77,406.93 76.44,406.29 77.11,405.67 77.79,405.06 78.46,404.47 79.14,403.89 79.81,403.33 80.48,402.78 81.16,402.24 81.83,401.72 82.51,401.21 83.18,400.71 83.85,400.23 84.53,399.75 85.20,399.29 85.88,398.84 86.55,398.40 87.22,397.97 87.90,397.55 88.57,397.14 89.25,396.74 89.92,396.35 90.59,395.97 91.27,395.60 91.94,395.24 92.62,394.89 93.29,394.55 93.96,394.21 94.64,393.88 95.31,393.56 95.99,393.25 96.66,392.95 97.33,392.65 98.01,392.36 98.68,392.08 99.36,391.81 100.03,391.54 100.70,391.28 101.38,391.02 102.05,390.77 102.73,390.53 103.40,390.29 104.07,390.06 104.75,389.83 105.42,389.61 106.10,389.40 106.77,389.19 107.44,388.98 108.12,388.78 108.79,388.59 109.47,388.40 110.14,388.21 110.81,388.03 111.49,387.86 112.16,387.68 112.84,387.52 113.51,387.35 114.18,387.19 114.86,387.04 115.53,386.88 116.21,386.74 116.88,386.59 117.55,386.45 118.23,386.31 118.90,386.18 119.58,386.05 120.25,385.92 120.92,385.79 121.60,385.67 122.27,385.55 122.95,385.44 123.62,385.32 124.29,385.21 124.97,385.11 125.64,385.00 126.32,384.90 126.99,384.80 127.66,384.70 128.34,384.61 129.01,384.51 129.69,384.42 130.36,384.33 131.03,384.25 131.71,384.16 132.38,384.08 133.06,384.00 133.73,383.92 134.40,383.85 135.08,383.77 135.75,383.70 136.43,383.63 137.10,383.56 137.77,383.49 138.45,383.43 139.12,383.36 139.80,383.30 140.47,383.24 141.14,383.18 141.82,383.12 142.49,383.07 143.17,383.01 143.84,382.96 144.51,382.90 145.19,382.85 145.86,382.80 146.54,382.75 147.21,382.71 147.88,382.66 148.56,382.61 149.23,382.57 149.91,382.53 150.58,382.48 151.25,382.44 151.93,382.40 152.60,382.36 153.28,382.33 153.95,382.29 154.62,382.25 155.30,382.22 155.97,382.18 156.65,382.15 157.32,382.12 157.99,382.08 158.67,382.05 159.34,382.02 160.02,381.99 160.69,381.96 161.36,381.93 162.04,381.91 162.71,381.88 163.39,381.85 164.06,381.83 164.73,381.80 165.41,381.78 166.08,381.75 166.76,381.73 167.43,381.71 168.10,381.69 168.78,381.66 169.45,381.64 170.13,381.62 170.80,381.60" class="md"/>
<path d="M41.18 480.20V481.80M39.48 480.20H42.88M39.48 481.80H42.88" class="eb"/>
<path d="M46.37 468.20V471.00M44.67 468.20H48.07M44.67 471.00H48.07" class="eb"/>
<path d="M51.55 453.40V460.60M49.85 453.40H53.25M49.85 460.60H53.25" class="eb"/>
<path d="M56.74 441.40V446.60M55.04 441.40H58.44M55.04 446.60H58.44" class="eb"/>
<path d="M61.92 430.40V435.60M60.22 430.40H63.62M60.22 435.60H63.62" class="eb"/>
<path d="M67.11 418.60V424.60M65.41 418.60H68.81M65.41 424.60H68.81" class="eb"/>
<path d="M72.29 413.60V419.60M70.59 413.60H73.99M70.59 419.60H73.99" class="eb"/>
<path d="M77.48 407.40V414.60M75.78 407.40H79.18M75.78 414.60H79.18" class="eb"/>
<path d="M82.66 402.00V410.00M80.96 402.00H84.36M80.96 410.00H84.36" class="eb"/>
<path d="M87.85 396.40V401.60M86.15 396.40H89.55M86.15 401.60H89.55" class="eb"/>
<path d="M93.03 393.80V399.00M91.33 393.80H94.73M91.33 399.00H94.73" class="eb"/>
<path d="M98.22 392.00V398.00M96.52 392.00H99.92M96.52 398.00H99.92" class="eb"/>
<path d="M103.40 389.60V396.40M101.70 389.60H105.10M101.70 396.40H105.10" class="eb"/>
<path d="M108.58 387.20V393.60M106.88 387.20H110.28M106.88 393.60H110.28" class="eb"/>
<path d="M113.77 384.60V391.00M112.07 384.60H115.47M112.07 391.00H115.47" class="eb"/>
<path d="M118.95 382.00V388.40M117.25 382.00H120.65M117.25 388.40H120.65" class="eb"/>
<path d="M124.14 381.40V387.80M122.44 381.40H125.84M122.44 387.80H125.84" class="eb"/>
<path d="M129.32 379.20V385.20M127.62 379.20H131.02M127.62 385.20H131.02" class="eb"/>
<path d="M134.51 378.20V384.20M132.81 378.20H136.21M132.81 384.20H136.21" class="eb"/>
<path d="M139.69 377.60V383.60M137.99 377.60H141.39M137.99 383.60H141.39" class="eb"/>
<path d="M144.88 377.20V383.20M143.18 377.20H146.58M143.18 383.20H146.58" class="eb"/>
<path d="M150.06 377.20V383.20M148.36 377.20H151.76M148.36 383.20H151.76" class="eb"/>
<path d="M155.25 377.20V383.20M153.55 377.20H156.95M153.55 383.20H156.95" class="eb"/>
<path d="M160.43 377.20V383.20M158.73 377.20H162.13M158.73 383.20H162.13" class="eb"/>
<path d="M165.62 377.20V383.20M163.92 377.20H167.32M163.92 383.20H167.32" class="eb"/>
<path d="M170.80 377.20V383.20M169.10 377.20H172.50M169.10 383.20H172.50" class="eb"/>
<circle cx="36.00" cy="493.00" r="1.6" class="mk"/>
<circle cx="41.18" cy="481.00" r="1.6" class="mk"/>
<circle cx="46.37" cy="469.60" r="1.6" class="mk"/>
<circle cx="51.55" cy="457.00" r="1.6" class="mk"/>
<circle cx="56.74" cy="444.00" r="1.6" class="mk"/>
<circle cx="61.92" cy="433.00" r="1.6" class="mk"/>
<circle cx="67.11" cy="421.60" r="1.6" class="mk"/>
<circle cx="72.29" cy="416.60" r="1.6" class="mk"/>
<circle cx="77.48" cy="411.00" r="1.6" class="mk"/>
<circle cx="82.66" cy="406.00" r="1.6" class="mk"/>
<circle cx="87.85" cy="399.00" r="1.6" class="mk"/>
<circle cx="93.03" cy="396.40" r="1.6" class="mk"/>
<circle cx="98.22" cy="395.00" r="1.6" class="mk"/>
<circle cx="103.40" cy="393.00" r="1.6" class="mk"/>
<circle cx="108.58" cy="390.40" r="1.6" class="mk"/>
<circle cx="113.77" cy="387.80" r="1.6" class="mk"/>
<circle cx="118.95" cy="385.20" r="1.6" class="mk"/>
<circle cx="124.14" cy="384.60" r="1.6" class="mk"/>
<circle cx="129.32" cy="382.20" r="1.6" class="mk"/>
<circle cx="134.51" cy="381.20" r="1.6" class="mk"/>
<circle cx="139.69" cy="380.60" r="1.6" class="mk"/>
<circle cx="144.88" cy="380.20" r="1.6" class="mk"/>
<circle cx="150.06" cy="380.20" r="1.6" class="mk"/>
<circle cx="155.25" cy="380.20" r="1.6" class="mk"/>
<circle cx="160.43" cy="380.20" r="1.6" class="mk"/>
<circle cx="165.62" cy="380.20" r="1.6" class="mk"/>
<circle cx="170.80" cy="380.20" r="1.6" class="mk"/>
<text x="81.60" y="469.70" class="an" textLength="24.10" lengthAdjust="spacingAndGlyphs">k = 0.19</text>
<text x="81.60" y="486.00" class="an2" textLength="64.40" lengthAdjust="spacingAndGlyphs">r = 106.6 cm<tspan class="sup" dy="-2.6">3</tspan><tspan dy="2.6">/g VS·d</tspan></text>
<text transform="translate(11.20,428.10) rotate(-90)" class="yl" textLength="49.80" lengthAdjust="spacingAndGlyphs">CH<tspan class="sub" dy="1.6">4</tspan><tspan dy="-1.6"> [cm</tspan><tspan class="sup" dy="-2.6">3</tspan><tspan dy="2.6">/g VS]</tspan></text>
<text x="80.10" y="516.60" class="xl" textLength="38.2" lengthAdjust="spacingAndGlyphs">Time [days]</text>
<text x="89.90" y="543.60" class="pl">(e)</text></g>
</svg></div></body></html>
